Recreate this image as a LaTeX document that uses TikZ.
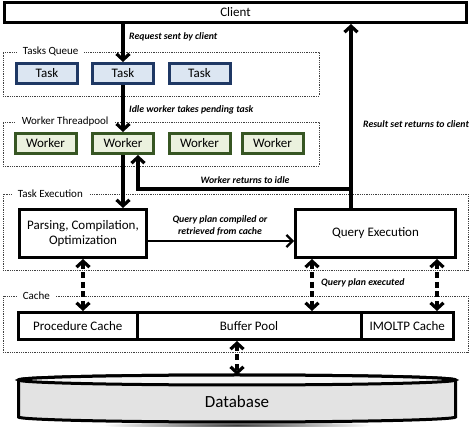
\documentclass[tikz,border=0pt]{standalone}
\usepackage{fontspec}
\setmainfont{Carlito}
\usetikzlibrary{arrows.meta,positioning,calc}

\definecolor{taskfill}{HTML}{DCE6F2}
\definecolor{taskline}{HTML}{1F3864}
\definecolor{workerfill}{HTML}{EBF1DE}
\definecolor{workerline}{HTML}{375623}
\definecolor{dbfill}{HTML}{E3E3E3}

\tikzset{
  box/.style={draw, line width=3pt, inner sep=0pt, align=center,
    font=\fontsize{13}{15}\selectfont},
  taskbox/.style={box, fill=taskfill, draw=taskline, minimum width=61pt, minimum height=20pt},
  workerbox/.style={box, fill=workerfill, draw=workerline, minimum width=61pt, minimum height=20pt},
  group/.style={draw=black!75, densely dotted, line width=0.8pt, inner sep=0pt},
  grouplabel/.style={fill=white, inner xsep=6pt, inner ysep=1pt, font=\fontsize{11}{13}\selectfont},
  note/.style={inner sep=1pt, align=center, font=\fontsize{9.8}{12}\selectfont\itshape\bfseries},
  flow/.style={line width=3.2pt, -{Straight Barb[length=6pt,width=13pt]}},
  access/.style={line width=3.2pt, dash pattern=on 6pt off 3.5pt,
    {Straight Barb[length=6pt,width=13pt]}-{Straight Barb[length=6pt,width=13pt]}},
}

\begin{document}
\begin{tikzpicture}[x=1pt,y=-1pt]
    \useasboundingbox (0,0) rectangle (474,427);

    % dotted groups
    \node[group, minimum width=316pt, minimum height=44pt] (queue) at (161,74) {};
    \node[group, minimum width=316pt, minimum height=44pt] (pool) at (161,144) {};
    \node[group, minimum width=465pt, minimum height=76pt] (stage) at (235.5,232) {};
    \node[group, minimum width=465pt, minimum height=56pt] (cache) at (235.5,324) {};
    \node[grouplabel, anchor=west] at ([xshift=14pt]queue.north west) {Tasks Queue};
    \node[grouplabel, anchor=west] at ([xshift=13pt]pool.north west) {Worker Threadpool};
    \node[grouplabel, anchor=west] at ([xshift=9pt]stage.north west) {Task Execution};
    \node[grouplabel, anchor=west] at ([xshift=14pt]cache.north west) {Cache};

    \node[box, minimum width=462pt, minimum height=20pt] (client) at (235.5,12.5) {Client};

    \node[taskbox] (task1) at (47,73.5) {Task};
    \node[taskbox] (task2) at (123,73.5) {Task};
    \node[taskbox] (task3) at (199.5,73.5) {Task};

    \node[workerbox] (worker1) at (45.5,143.5) {Worker};
    \node[workerbox] (worker2) at (123,143.5) {Worker};
    \node[workerbox] (worker3) at (199.5,143.5) {Worker};
    \node[workerbox] (worker4) at (272.5,143.5) {Worker};

    \node[box, minimum width=127pt, minimum height=48pt] (parse) at (83,233.5) {Parsing, Compilation,\\Optimization};
    \node[box, minimum width=160pt, minimum height=48pt] (exec) at (375.5,233.5) {Query Execution};

    \node[box, minimum width=118.5pt, minimum height=27pt] (proc) at (77.75,326) {Procedure Cache};
    \node[box, minimum width=224pt, minimum height=27pt] (buffer) at (249,326) {Buffer Pool};
    \node[box, minimum width=92.5pt, minimum height=27pt] (imoltp) at (407.25,326) {IMOLTP Cache};

    % database disk
    \shade[inner color=black!75, outer color=white] (237,425) ellipse[x radius=135pt, y radius=5pt];
    \draw[line width=3pt, fill=dbfill] (18.5,380) -- (18.5,417)
        arc[start angle=180, end angle=360, x radius=218.5pt, y radius=5pt]
        -- (455.5,380) arc[start angle=0, end angle=180, x radius=218.5pt, y radius=5pt] -- cycle;
    \draw[line width=3pt, fill=white!92!gray] (237,380) ellipse[x radius=218.5pt, y radius=5pt];
    \coordinate (dbtop) at (237,375);
    \node[font=\fontsize{17}{20}\selectfont] (db) at (237,402) {Database};

    % flows
    \draw[flow] (task2.north |- client.south) -- (task2.north);
    \node[note, anchor=west] at (128,37) {Request sent by client};
    \draw[flow] (task2.south) -- (worker2.north);
    \node[note, anchor=west] at (128,110) {Idle worker takes pending task};
    \draw[flow] (worker2.south) -- (worker2.south |- parse.north);

    \coordinate (split) at ([xshift=-24.5pt]exec.north |- 0,189);
    \draw[flow] ([xshift=-24.5pt]exec.north) -- (split) -- (split |- client.south);
    \node[note, anchor=west] at (362,124) {Result set returns to client};
    \draw[flow] (split) -| ([xshift=15pt]worker2.south);
    \node[note] at (245,180) {Worker returns to idle};

    \draw[line width=2.2pt, -{Straight Barb[length=6pt,width=12pt]}] ([yshift=-7.5pt]parse.east) -- ([yshift=-7.5pt]exec.west);
    \node[note] at (220,226) {Query plan compiled or\\retrieved from cache};

    \draw[access] (parse.south) -- (parse.south |- proc.north);
    \draw[access] ([xshift=-63.5pt]exec.south) -- ([xshift=-63.5pt]exec.south |- buffer.north);
    \draw[access] ([xshift=61.5pt]exec.south) -- ([xshift=61.5pt]exec.south |- imoltp.north);
    \node[note, anchor=west] at (320,283) {Query plan executed};
    \draw[access] (buffer.south -| dbtop) -- (dbtop);
\end{tikzpicture}
\end{document}
